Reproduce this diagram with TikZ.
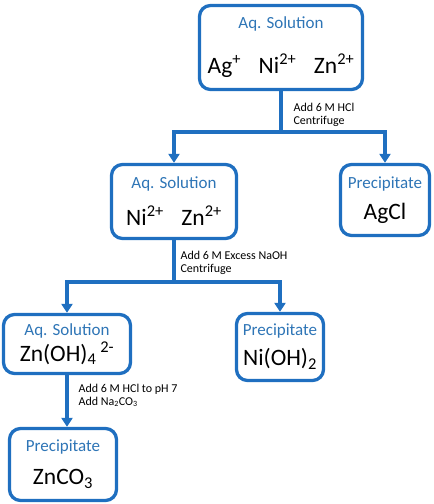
\documentclass[tikz,border=0pt]{standalone}
\usepackage{fontspec}
\setmainfont{Carlito}
\usetikzlibrary{arrows.meta,positioning,calc}
\definecolor{aqblue}{RGB}{31,111,192}
\definecolor{titleblue}{RGB}{46,117,182}
\newcommand{\boxtitle}[1]{{\color{titleblue}\fontsize{17}{20}\selectfont #1}}

\begin{document}
\begin{tikzpicture}[x=1pt,y=-1pt,>={Triangle[width=11pt,length=9pt]}]
\tikzstyle{box}=[draw=aqblue, line width=3.3pt, rounded corners=11pt, inner sep=0pt, align=center, font=\fontsize{23.5}{27}\selectfont]
\tikzstyle{conn}=[draw=aqblue, line width=3.2pt]
\tikzstyle{note}=[font=\fontsize{12}{13}\selectfont, align=left, inner sep=0pt, anchor=west]
\useasboundingbox (0,0) rectangle (434,504);

\node[box, minimum width=163pt, minimum height=84pt] (sol1) at (281,47.5)
  {\boxtitle{Aq. Solution}\\[18pt]Ag\textsuperscript{+}\hspace{0.75em}Ni\textsuperscript{2+}\hspace{0.75em}Zn\textsuperscript{2+}};
\node[box, minimum width=125pt, minimum height=74pt] (sol2) at (174,201.5)
  {\boxtitle{Aq. Solution}\\[10pt]Ni\textsuperscript{2+}\hspace{0.75em}Zn\textsuperscript{2+}};
\node[box, minimum width=89pt, minimum height=71pt] (agcl) at (385,200)
  {\boxtitle{Precipitate}\\[4pt]AgCl};
\node[box, minimum width=127pt, minimum height=59pt] (sol3) at (67,344)
  {\boxtitle{Aq. Solution}\\[-1pt]Zn(OH)\textsubscript{4}\,\textsuperscript{2-}};
\node[box, minimum width=87pt, minimum height=67pt] (nioh) at (280,347)
  {\boxtitle{Precipitate}\\[3pt]Ni(OH)\textsubscript{2}};
\node[box, minimum width=107pt, minimum height=72pt] (znco3) at (63,464.5)
  {\boxtitle{Precipitate}\\[6pt]ZnCO\textsubscript{3}};

% split points
\coordinate (j1) at (281,132);
\coordinate (j2) at (174,282);

\draw[conn] (sol1) -- (j1) node[midway, note, xshift=11pt, yshift=-3pt]{Add 6 M HCl\\Centrifuge};
\draw[conn,->] (j1) -| (sol2.north);
\draw[conn,->] (j1) -| (agcl.north);
\draw[conn] (sol2) -- (j2) node[midway, note, xshift=5pt, yshift=-1.3pt]{Add 6 M Excess NaOH\\Centrifuge};
\draw[conn,->] (j2) -| (sol3.north);
\draw[conn,->] (j2) -| (nioh.north);
\draw[conn,->] (sol3) -- (sol3 |- znco3.north) node[midway, note, xshift=10pt, yshift=5.7pt]{Add 6 M HCl to pH 7\\Add Na\textsubscript{2}CO\textsubscript{3}};
\end{tikzpicture}
\end{document}
